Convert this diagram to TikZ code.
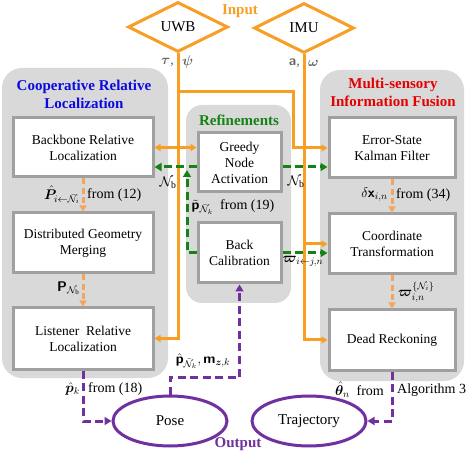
\RequirePackage{fix-cm}
\documentclass[tikz,border=0pt]{standalone}
\usepackage{amsmath,bm}
\usepackage{fontspec}
\setmainfont{Liberation Serif}
\usetikzlibrary{shapes.geometric,arrows.meta,calc}
\definecolor{orC}{RGB}{248,158,35}
\definecolor{odC}{RGB}{243,165,95}
\definecolor{grC}{RGB}{20,130,20}
\definecolor{puC}{RGB}{112,48,160}
\definecolor{panC}{RGB}{217,217,217}
\definecolor{bdC}{RGB}{160,160,160}
\definecolor{glC}{RGB}{100,100,100}
\definecolor{tbC}{RGB}{10,10,225}
\definecolor{trC}{RGB}{228,0,0}
\newcommand{\bsf}[1]{\text{\normalfont\sffamily\bfseries #1}}
\newcommand{\Nc}{\mathcal{N}}
\tikzset{
  panel/.style={fill=panC, draw=none},
  boxn/.style={draw=bdC, line width=3pt, fill=white, align=center, inner sep=0pt,
    font=\fontsize{13.5}{16}\selectfont},
  ptitle/.style={align=center, font=\fontsize{15}{18}\selectfont\bfseries},
  lbl/.style={font=\fontsize{14}{16}\selectfont, inner sep=0pt},
  orl/.style={draw=orC, line width=3pt},
  odl/.style={draw=odC, line width=3pt, dash pattern=on 6pt off 3.5pt},
  grl/.style={draw=grC, line width=3pt, dash pattern=on 8pt off 4.5pt},
  pul/.style={draw=puC, line width=3pt, dash pattern=on 8pt off 4.5pt},
  otip/.style={-{Triangle[length=6pt,width=7pt]}},
  gtip/.style={-{Triangle[length=7pt,width=8pt]}},
  dnode/.style={diamond, draw=orC, line width=3pt, minimum width=100pt, minimum height=50pt,
    aspect=2, inner sep=0pt, fill=white, font=\fontsize{15}{18}\selectfont},
  enode/.style={ellipse, draw=puC, line width=3pt, minimum width=114pt, minimum height=50pt,
    inner sep=0pt, font=\fontsize{15}{18}\selectfont}
}
\begin{document}
\begin{tikzpicture}[x=1pt,y=-1pt]
\useasboundingbox (0,0) rectangle (474,454);
% panels
\fill[panel, rounded corners=20pt] (2,68) rectangle (168,378);
\fill[panel, rounded corners=16pt] (186,105) rectangle (291,303);
\fill[panel, rounded corners=20pt] (320,70) rectangle (464,381);
% titles
\node[ptitle, text=tbC] (t1) at (84,94) {Cooperative Relative\\Localization};
\node[ptitle, text=grC] (t2) at (239,120) {Refinements};
\node[ptitle, text=trC] (t3) at (393,92) {Multi-sensory\\Information Fusion};
\node[ptitle, text=orC] (tin) at (240,11) {Input};
\node[ptitle, text=puC] (tout) at (238,444) {Output};
% input diamonds
\node[dnode] (uwb) at (178,27) {UWB};
\node[dnode] (imu) at (304,28) {IMU};
% boxes
\node[boxn, minimum width=140pt, minimum height=59pt] (bb) at (83,147.5) {Backbone Relative\\Localization};
\node[boxn, minimum width=140pt, minimum height=60pt] (dgm) at (83,243) {Distributed Geometry\\Merging};
\node[boxn, minimum width=140pt, minimum height=61pt] (lrl) at (83,338.5) {Listener\enspace Relative\\Localization};
\node[boxn, minimum width=83pt, minimum height=59pt] (gna) at (239.5,162.5) {Greedy\\Node\\Activation};
\node[boxn, minimum width=83pt, minimum height=60pt] (bc) at (239.5,253) {Back\\Calibration};
\node[boxn, minimum width=126pt, minimum height=60pt] (eskf) at (392,148) {Error-State\\Kalman Filter};
\node[boxn, minimum width=126pt, minimum height=60pt] (ct) at (392,244) {Coordinate\\Transformation};
\node[boxn, minimum width=126pt, minimum height=60pt] (dr) at (392,340) {Dead Reckoning};
% outputs
\node[enode] (pose) at (170,421) {Pose};
\node[enode] (traj) at (309,421) {Trajectory};
% input labels
\node[lbl, anchor=east, text=glC] (l1) at (174,62) {$\bm{\tau}$,};
\node[lbl, anchor=west, text=glC] (l2) at (182,62) {$\bm{\psi}$};
\node[lbl, anchor=east, text=glC] (l3) at (300,63) {$\bsf{a}$,};
\node[lbl, anchor=west, text=glC] (l4) at (308,63) {$\bm{\omega}$};
% orange solid connectors
\coordinate (j1) at (178,92);
\coordinate (j2) at (293,92);
\draw[orl, otip] (uwb.south) |- (lrl.east);
\draw[orl, otip] (j1) -- (j2) |- (eskf.west);
\draw[orl, {Triangle[length=6pt,width=7pt]}-{Triangle[length=6pt,width=7pt]}] (bb.east) -- (gna.west |- bb.east);
\draw[orl, otip] (imu.south) |- (dr.west);
\draw[orl, otip] (imu.south |- ct.west) -- (ct.west);
% green dashed connectors
\coordinate (gL) at ([yshift=-4.5pt]gna.west);
\coordinate (gR) at ([yshift=-4.5pt]gna.east);
\coordinate (gc) at (187,170);
\draw[grl, gtip] (gL) -- (bb.east |- gL);
\draw[grl, gtip] (gR) -- (eskf.west |- gR);
\draw[grl, gtip] (bc.west) -| (gc);
\draw[grl, gtip] (bc.east) -- (ct.west |- bc.east);
\node[lbl] (n1) at (168,183) {$\Nc_{\mathrm{b}}$};
\node[lbl] (n2) at (296,182) {$\Nc_{\mathrm{b}}$};
\node[lbl] (n3) at (303,261) {$\bm{\varpi}_{i\leftarrow j,n}$};
\node[lbl] (n4) at (233,207) {$\tilde{\bsf{p}}_{\bar{\Nc}_k}$\ \ from (19)};
% orange dashed connectors
\draw[odl, otip] (bb.south) -- (dgm.north);
\draw[odl, otip] (dgm.south) -- (lrl.north);
\draw[odl, otip] (eskf.south) -- (ct.north);
\draw[odl, otip] (ct.south) -- (dr.north);
\node[lbl, anchor=east] (o1) at (80,195) {$\hat{\bm{P}}_{i\leftarrow\bar{\Nc}_i}$};
\node[lbl, anchor=west] (o2) at (87,195) {from (12)};
\node[lbl, anchor=east] (o3) at (80,288) {$\bsf{P}_{\Nc_{\mathrm{b}}}$};
\node[lbl, anchor=east] (o4) at (388,195) {$\delta\bsf{x}_{i,n}$};
\node[lbl, anchor=west] (o5) at (396,195) {from (34)};
\node[lbl, anchor=west] (o6) at (398,292) {$\bm{\varpi}_{i,n}^{\{\Nc_i\}}$};
% purple dashed connectors
\coordinate (pm) at (200,377);
\draw[pul, gtip] (lrl.south) |- (pose.west);
\draw[pul, gtip] (pose.north) |- (pm) -| (bc.south);
\draw[pul, gtip] (dr.south) |- (traj.east);
\node[lbl] (p1) at (203,361) {$\hat{\bsf{p}}_{\bar{\Nc}_k}, \bsf{m}_{\bm{z},k}$};
\node[lbl, anchor=east] (p2) at (80,389) {$\hat{\bm{p}}_k$};
\node[lbl, anchor=west] (p3) at (88,389) {from (18)};
\node[lbl, anchor=east] (p4) at (384,390) {$\hat{\bm{\theta}}_n$\ \ from};
\node[lbl, anchor=west] (p5) at (397,390) {Algorithm 3};
\end{tikzpicture}
\end{document}
